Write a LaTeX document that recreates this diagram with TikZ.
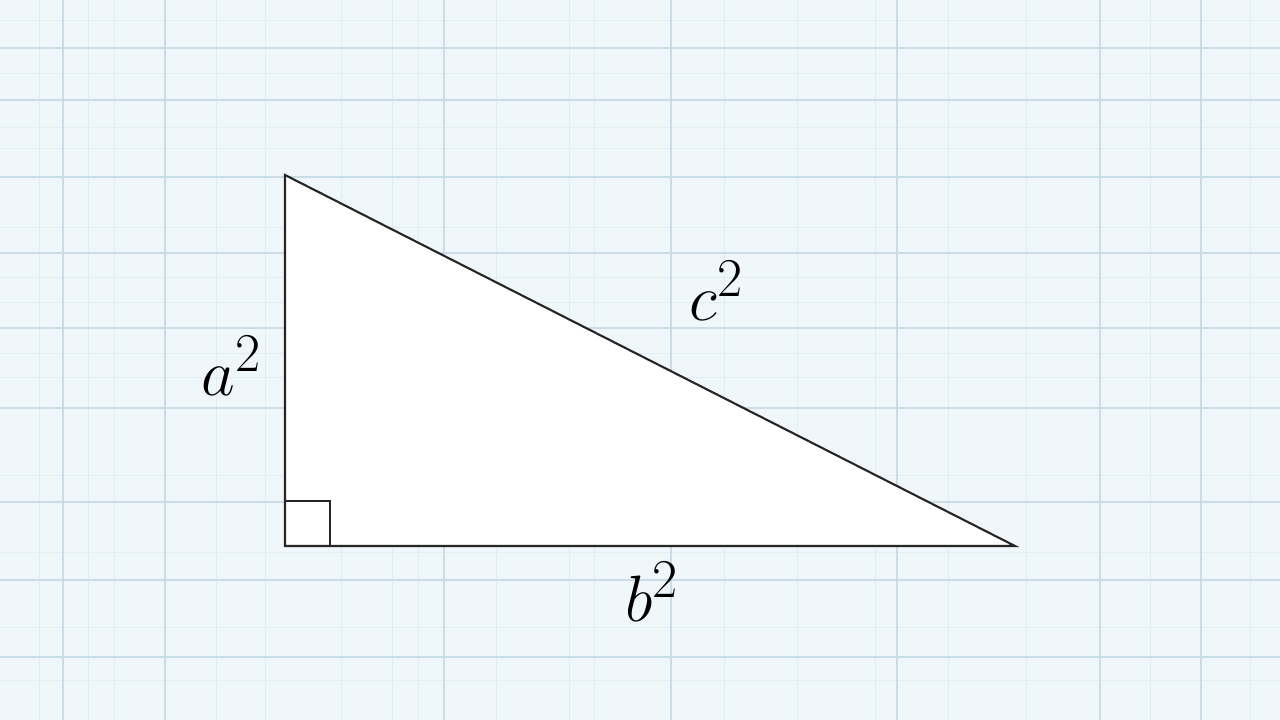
\documentclass[tikz,border=0pt]{standalone}
\usepackage{amsmath,amssymb}
\usepackage{tikz}
\usetikzlibrary{positioning}
\definecolor{paper}{HTML}{F0F7FA}
\definecolor{gridmajor}{HTML}{CADDE6}
\definecolor{gridminor}{HTML}{E0EDF3}
\tikzset{
  majorline/.style={color=gridmajor,line width=0.8pt},
  minorline/.style={color=gridminor,line width=0.5pt},
  side/.style={color=black!85,line width=1.2pt,line join=miter},
  sidelabel/.style={inner sep=0pt,font=\Huge,scale=1.5,transform shape}
}
\begin{document}
\begin{tikzpicture}[x=0.2mm,y=-0.2mm]
            %
            \useasboundingbox (0,0) rectangle (1280,720);
            \fill[paper] (0,0) rectangle (1280,720);
            %
            \foreach \gx in {39,88,114,216,265,341,392,418,496,569,594,724,797,875,948,1026,1150,1250}
                \draw[minorline] (\gx,0) -- (\gx,720);
            \foreach \gy in {20,73,127,148,227,277,302,353,377,475,552,627,680}
                \draw[minorline] (0,\gy) -- (1280,\gy);
            \foreach \gx in {63,165,444,671,897,1100,1201}
                \draw[majorline] (\gx,0) -- (\gx,720);
            \foreach \gy in {48,100,177,253,328,408,502,580,657}
                \draw[majorline] (0,\gy) -- (1280,\gy);
            %
            \coordinate (top) at (285,175);
            \coordinate (corner) at (285,546);
            \coordinate (tip) at (1015,546);
            \coordinate (mark) at (330,501);
            %
            \fill[white] (top) -- (corner) -- (tip) -- cycle;
            \draw[side] (top) -- (corner) -- (tip) -- cycle;
            \draw[side] (corner |- mark) -- (mark) -- (mark |- corner);
            %
            \node[sidelabel] (sidea) at (232,366) {$a^2$};
            \node[sidelabel] (sideb) at (652,592) {$b^2$};
            \node[sidelabel] (sidec) at (717,291) {$c^2$};
            %
        \end{tikzpicture}
\end{document}
